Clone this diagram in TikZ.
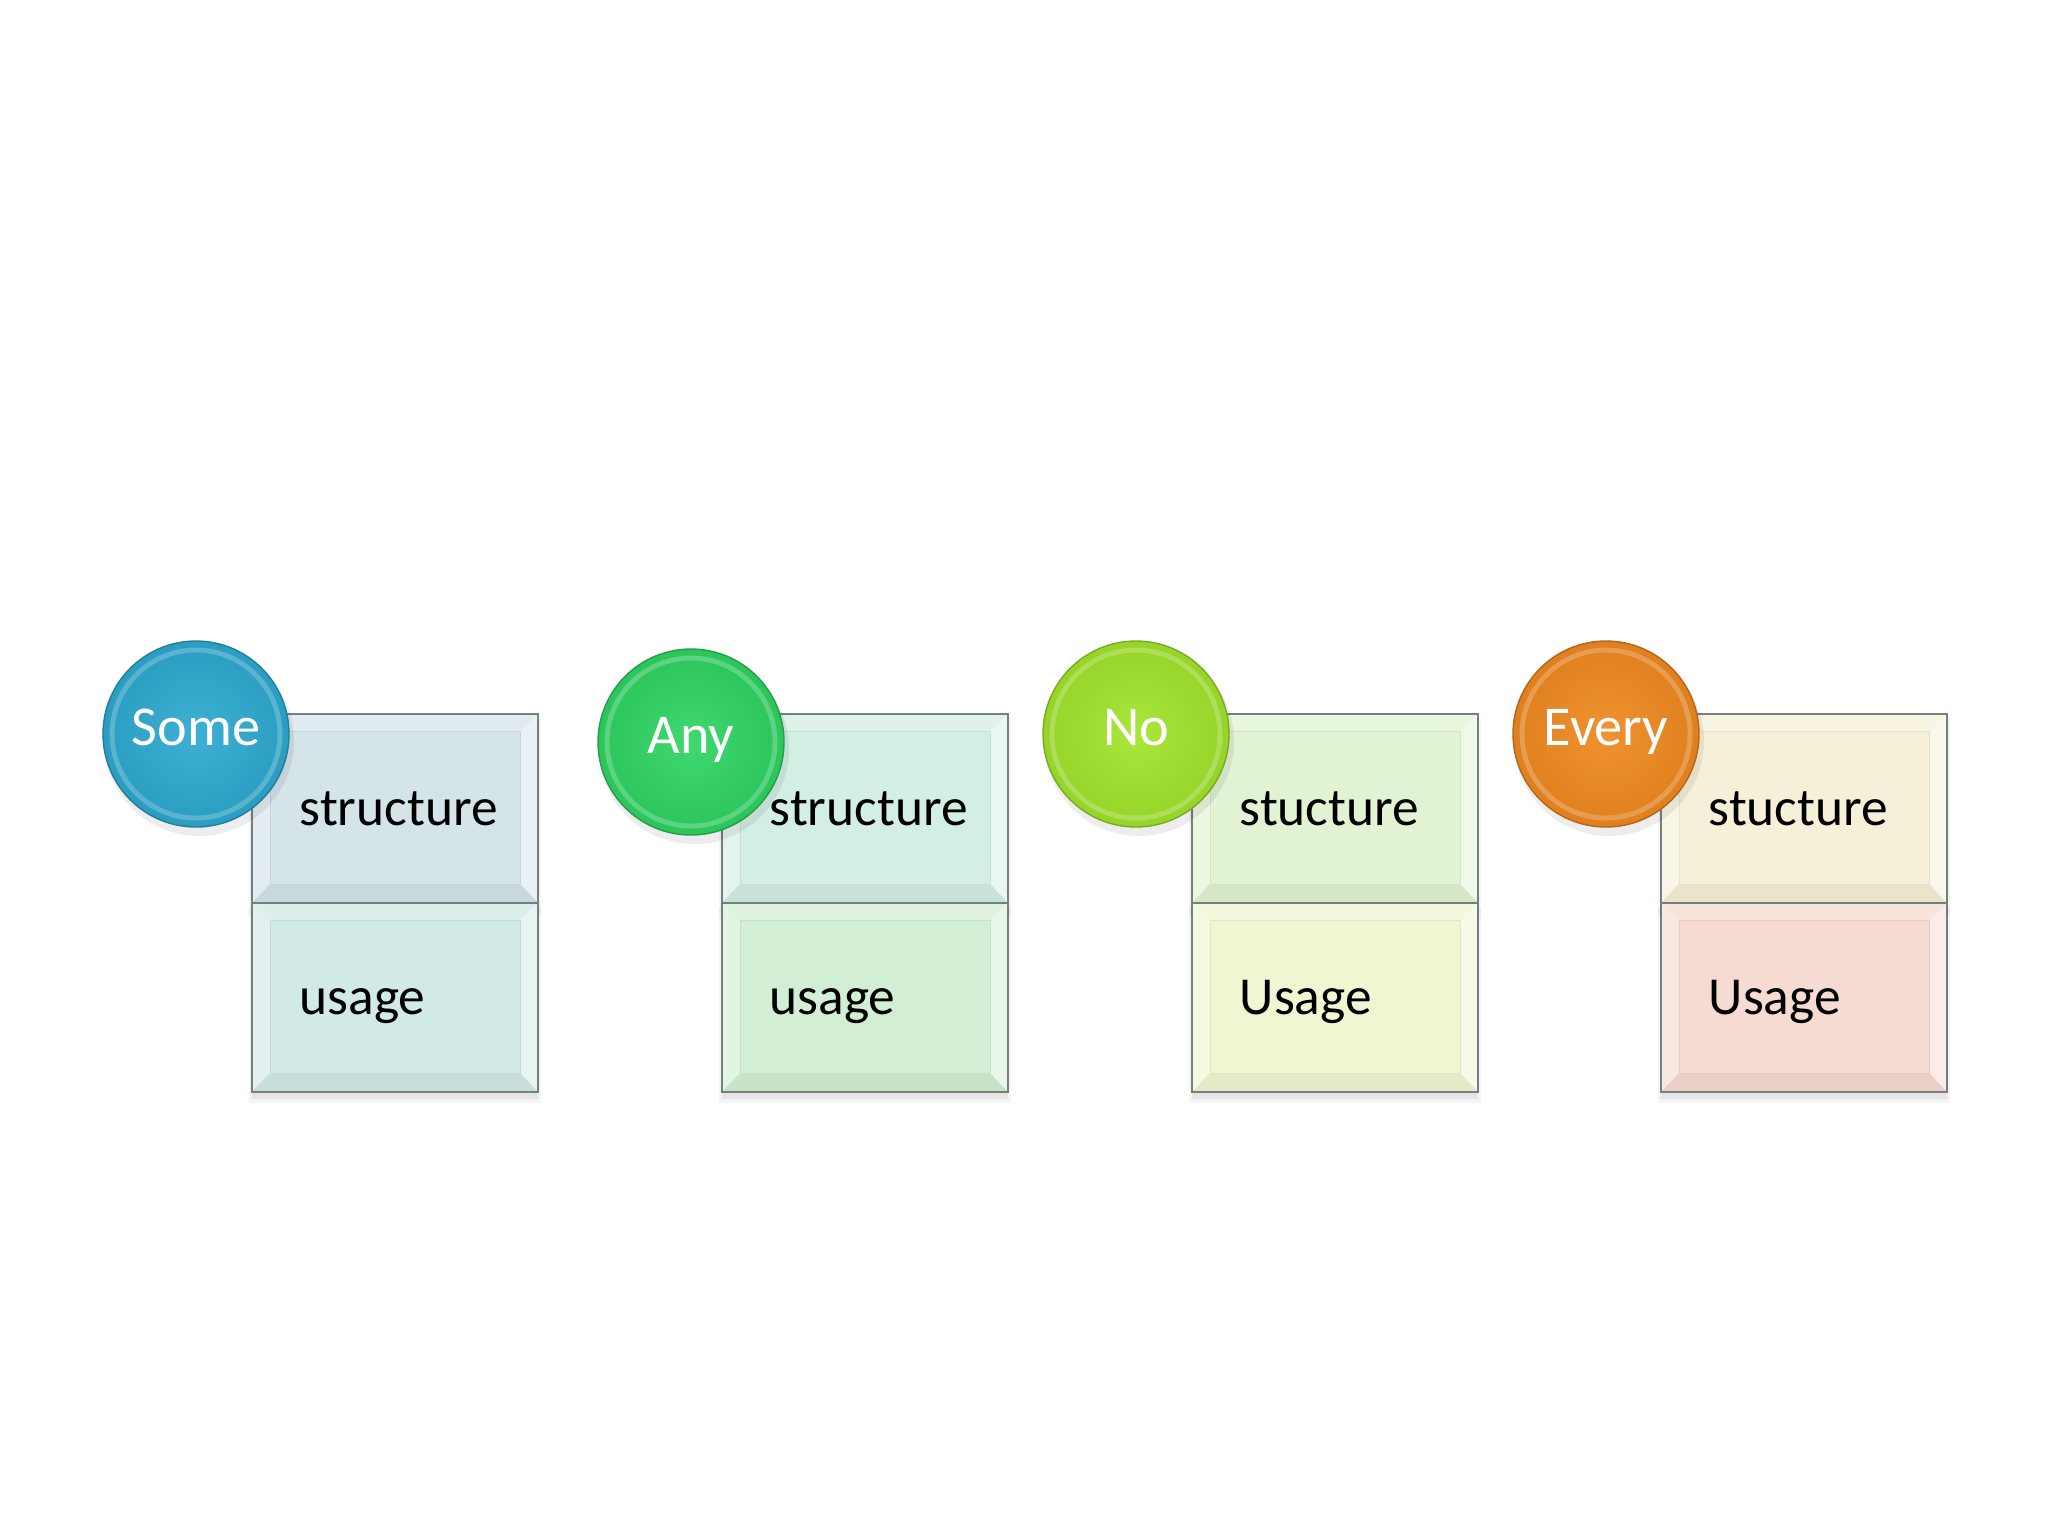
\documentclass[tikz,border=0pt]{standalone}
\usepackage{fontspec}
\setmainfont{Carlito}
\definecolor{bdr}{HTML}{767F7F}
\definecolor{aT}{HTML}{D4E4E9}\definecolor{aB}{HTML}{D2EAE7}
\definecolor{bT}{HTML}{D3EEE3}\definecolor{bB}{HTML}{D2EFD5}
\definecolor{cT}{HTML}{E1F3D3}\definecolor{cB}{HTML}{EEF6D2}
\definecolor{dT}{HTML}{F6F0D8}\definecolor{dB}{HTML}{F6DBD2}
\definecolor{aC}{HTML}{2DA9D0}
\definecolor{bC}{HTML}{2FD463}
\definecolor{cC}{HTML}{A2E42C}
\definecolor{dC}{HTML}{F08920}
\tikzset{
  boxtext/.style={anchor=base west,inner sep=0pt,font=\fontsize{15.2}{18}\selectfont,text=black},
  boxborder/.style={draw=bdr,line width=0.7pt},
  circnode/.style={circle,minimum size=18.6mm,inner sep=0pt,text=white,
    font=\fontsize{16}{19}\selectfont,text height=0.64em,text depth=0pt},
}
% #1 left, #2 top, #3 color, #4 name, #5 text
\newcommand\bevbox[5]{%
  \fill[black,opacity=0.045] (#1-3,#2+4) rectangle (#1+289,#2+200);
  \fill[black,opacity=0.06] (#1,#2+4) rectangle (#1+286,#2+196);
  \fill[#3] (#1,#2) rectangle (#1+286,#2+189);
  \fill[#3!75!white] (#1,#2) -- (#1+286,#2) -- (#1+268,#2+17) -- (#1+18,#2+17) -- cycle;
  \fill[#3!65!white] (#1,#2) -- (#1+18,#2+17) -- (#1+18,#2+170) -- (#1,#2+189) -- cycle;
  \fill[#3!50!white] (#1+286,#2) -- (#1+268,#2+17) -- (#1+268,#2+170) -- (#1+286,#2+189) -- cycle;
  \fill[#3!95!black] (#1,#2+189) -- (#1+18,#2+170) -- (#1+268,#2+170) -- (#1+286,#2+189) -- cycle;
  \draw[#3!94!black,line width=0.2pt] (#1+18,#2+17) rectangle (#1+268,#2+170);
  \draw[boxborder] (#1,#2) rectangle (#1+286,#2+189);
  \node[boxtext] (#4) at (#1+47,#2+111) {#5};
}
% #1 x, #2 y, #3 color, #4 name, #5 text
\newcommand\button[5]{%
  \fill[black,opacity=0.07] (#1+3,#2+7) circle (95);
  \node[circnode,inner color=#3!92!white,outer color=#3!93!black] (#4) at (#1,#2) {#5};
  \draw[white,opacity=0.22,line width=1.4pt] (#4.center) circle (84);
  \draw[#3!75!black,line width=0.4pt] (#4.center) circle (93);
}
\begin{document}
\begin{tikzpicture}[x=0.1mm,y=-0.1mm]
\useasboundingbox (0,0) rectangle (2048,1536);
\fill[white] (0,0) rectangle (2048,1536);
% group 1
\bevbox{252}{714}{aT}{s1}{structure}
\bevbox{252}{903}{aB}{u1}{usage}
\button{196}{734}{aC}{c1}{Some}
% group 2
\bevbox{722}{714}{bT}{s2}{structure}
\bevbox{722}{903}{bB}{u2}{usage}
\button{691}{742}{bC}{c2}{Any}
% group 3
\bevbox{1192}{714}{cT}{s3}{stucture}
\bevbox{1192}{903}{cB}{u3}{Usage}
\button{1136}{734}{cC}{c3}{No}
% group 4
\bevbox{1661}{714}{dT}{s4}{stucture}
\bevbox{1661}{903}{dB}{u4}{Usage}
\button{1606}{734}{dC}{c4}{Every}
\end{tikzpicture}
\end{document}
